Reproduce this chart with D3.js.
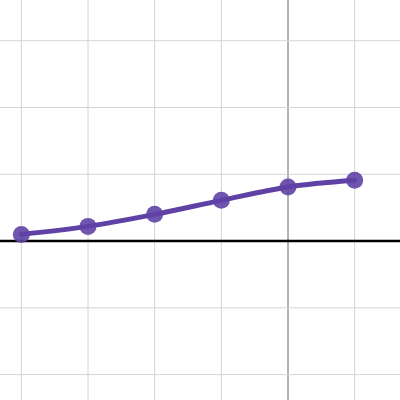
<!DOCTYPE html>
<html>
<head>
<meta charset="utf-8">
<script src="https://cdn.jsdelivr.net/npm/d3@7"></script>
<style>
  body { margin: 0; background: #fff; }
</style>
</head>
<body>
<svg id="chart" width="400" height="400"></svg>
<script>
// data points
const xs = [-4, -3, -2, -1, 0, 1];
const ys = [0.1, 0.22, 0.4, 0.61, 0.81, 0.91];
const gridX = [-4, -3, -2, -1, 0, 1];
const gridY = [-2, -1, 0, 1, 2, 3];

const svg = d3.select("#chart");
const x = d3.scaleLinear().domain([-4.32, 1.68]).range([0, 400]);
const y = d3.scaleLinear().domain([-2.38, 3.61]).range([400, 0]);

// grid
svg.append("g").selectAll("line").data(gridX).join("line")
    .attr("x1", d => x(d)).attr("x2", d => x(d))
    .attr("y1", 0).attr("y2", 400)
    .attr("stroke", d => d === 0 ? "#666" : "#d4d4d4")
    .attr("stroke-width", 1);
svg.append("g").selectAll("line").data(gridY).join("line")
    .attr("x1", 0).attr("x2", 400)
    .attr("y1", d => y(d)).attr("y2", d => y(d))
    .attr("stroke", d => d === 0 ? "#000" : "#d4d4d4")
    .attr("stroke-width", d => d === 0 ? 2.5 : 1);

// line
const line = d3.line().x((d, i) => x(xs[i])).y(d => y(d)).curve(d3.curveMonotoneX);
svg.append("path").datum(ys)
    .attr("d", line)
    .attr("fill", "none")
    .attr("stroke", "#6042a6")
    .attr("stroke-width", 5)
    .attr("stroke-linecap", "round");

// points
svg.append("g").selectAll("circle").data(ys).join("circle")
    .attr("cx", (d, i) => x(xs[i]))
    .attr("cy", d => y(d))
    .attr("r", 8.5)
    .attr("fill", "#6042a6")
    .attr("fill-opacity", 0.9);
</script>
</body>
</html>
